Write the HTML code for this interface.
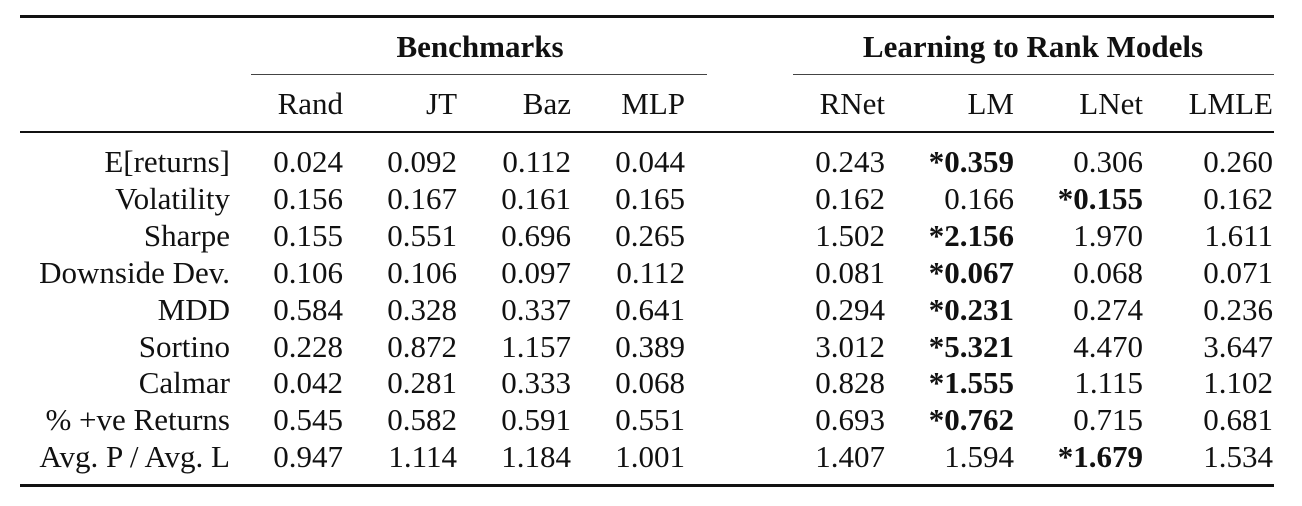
<!DOCTYPE html>
<html><head><style>
body{margin:0;width:1302px;height:506px;background:#fff;position:relative;overflow:hidden;font-family:"Liberation Serif",serif;font-size:31px;color:#111}
.t{position:absolute;line-height:30px;white-space:nowrap}
.r{text-align:right}
.c{text-align:center}
.b{font-weight:bold}
.rule{position:absolute;background:#111}
</style></head><body>
<div class="rule" style="left:20px;top:15px;width:1254px;height:3px"></div>
<div class="rule" style="left:251px;top:74px;width:456px;height:1.3px;background:#444"></div>
<div class="rule" style="left:793px;top:74px;width:481px;height:1.3px;background:#444"></div>
<div class="rule" style="left:20px;top:131px;width:1254px;height:2px"></div>
<div class="rule" style="left:20px;top:484px;width:1254px;height:3px"></div>
<div class="t c b" style="left:330px;width:300px;top:32px">Benchmarks</div>
<div class="t c b" style="left:833px;width:400px;top:32px">Learning to Rank Models</div>
<div id="g"></div>
<script>
var rights=[343,457,571,685,885,1014,1143,1273];
var hdr=["Rand","JT","Baz","MLP","RNet","LM","LNet","LMLE"];
var rows=[["E[returns]","0.024","0.092","0.112","0.044","0.243","*0.359","0.306","0.260"],
["Volatility","0.156","0.167","0.161","0.165","0.162","0.166","*0.155","0.162"],
["Sharpe","0.155","0.551","0.696","0.265","1.502","*2.156","1.970","1.611"],
["Downside Dev.","0.106","0.106","0.097","0.112","0.081","*0.067","0.068","0.071"],
["MDD","0.584","0.328","0.337","0.641","0.294","*0.231","0.274","0.236"],
["Sortino","0.228","0.872","1.157","0.389","3.012","*5.321","4.470","3.647"],
["Calmar","0.042","0.281","0.333","0.068","0.828","*1.555","1.115","1.102"],
["% +ve Returns","0.545","0.582","0.591","0.551","0.693","*0.762","0.715","0.681"],
["Avg. P / Avg. L","0.947","1.114","1.184","1.001","1.407","1.594","*1.679","1.534"]];
var h="";
function cell(txt,right,base,bold){h+='<div class="t r'+(bold?' b':'')+'" style="left:'+(right-300)+'px;width:300px;top:'+(base-25)+'px">'+txt+'</div>';}
hdr.forEach(function(x,i){cell(x,rights[i],114,false);});
rows.forEach(function(r,j){var base=172+j*36.9;cell(r[0],230,base,false);
for(var i=1;i<9;i++){var v=r[i];var b=v[0]=="*";cell(v,rights[i-1],base,b);}});
document.getElementById("g").innerHTML=h;
</script>
</body></html>
